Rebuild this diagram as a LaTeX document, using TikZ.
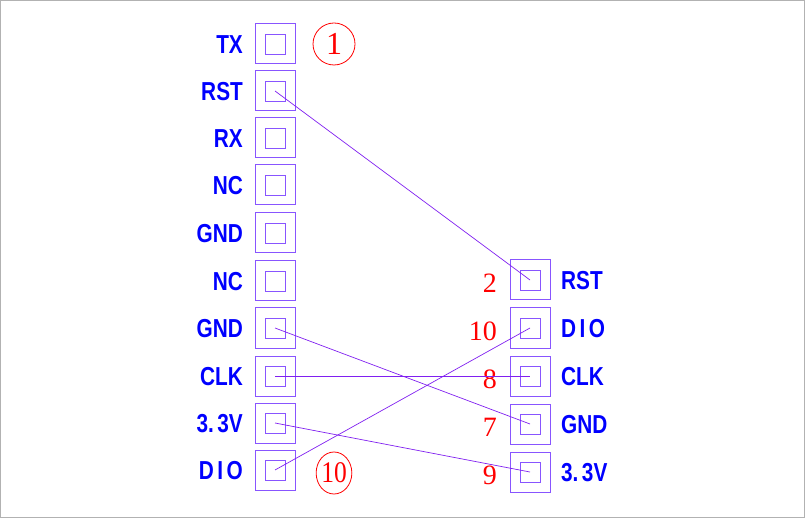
\documentclass[tikz,border=0pt]{standalone}
\usepackage{fontspec}
\setmainfont{Liberation Sans}
\newfontfamily\seriffont{Liberation Serif}
\begin{document}
\begin{tikzpicture}[x=1pt,y=-1pt,
  pad/.style={draw=padc,line width=1pt,minimum size=40pt,inner sep=0pt},
  inpad/.style={draw=padc,line width=0.9pt,minimum size=20pt,inner sep=0pt},
  lbl/.style={text=blue,font=\bfseries\fontsize{26}{26}\selectfont,xscale=0.8,inner sep=0pt},
  num/.style={text=red,font=\seriffont\fontsize{28}{28}\selectfont,inner sep=0pt},
  wire/.style={draw=wirec,line width=0.7pt}]
\definecolor{padc}{HTML}{8855FF}
\definecolor{wirec}{HTML}{8020F0}
\path[draw=gray!60,line width=1pt] (0.5,0.5) rectangle (804.5,517.5);
\useasboundingbox (0,0) rectangle (805,518);
\foreach \n/\y/\t in {1/44/TX,2/91/RST,3/138/RX,4/185/NC,5/233/GND,6/281/NC,7/328/GND,8/376/CLK,9/423/3.\,3V,10/470/D\,I\,O}{
  \node[pad] (L\n) at (275,\y) {};
  \node[inpad] (Li\n) at (275,\y) {};
  \node[lbl,anchor=east] (Lt\n) at (243,\y+1) {\t};
}
\foreach \n/\y/\t/\k in {1/280/RST/2,2/328/D\,I\,O/10,3/376/CLK/8,4/424/GND/7,5/472/3.\,3V/9}{
  \node[pad] (R\n) at (530,\y) {};
  \node[inpad] (Ri\n) at (530,\y) {};
  \node[lbl,anchor=west] (Rt\n) at (561,\y+1) {\t};
  \node[num,anchor=east] (Rn\n) at (497,\y+3) {\k};
}
\node[draw=red,circle,line width=0.8pt,minimum size=42pt,inner sep=0pt,text=red,font=\seriffont\fontsize{32}{32}\selectfont] (c1) at (334,44) {1};
\node[draw=red,circle,line width=0.8pt,minimum size=42pt,inner sep=0pt,text=red,font=\seriffont\fontsize{30}{30}\selectfont,xscale=0.85] (c10) at (334,473) {10};
\draw[wire] (Li2.center) -- (Ri1.center);
\draw[wire] (Li7.center) -- (Ri4.center);
\draw[wire] (Li8.center) -- (Ri3.center);
\draw[wire] (Li9.center) -- (Ri5.center);
\draw[wire] (Li10.center) -- (Ri2.center);
\end{tikzpicture}
\end{document}
